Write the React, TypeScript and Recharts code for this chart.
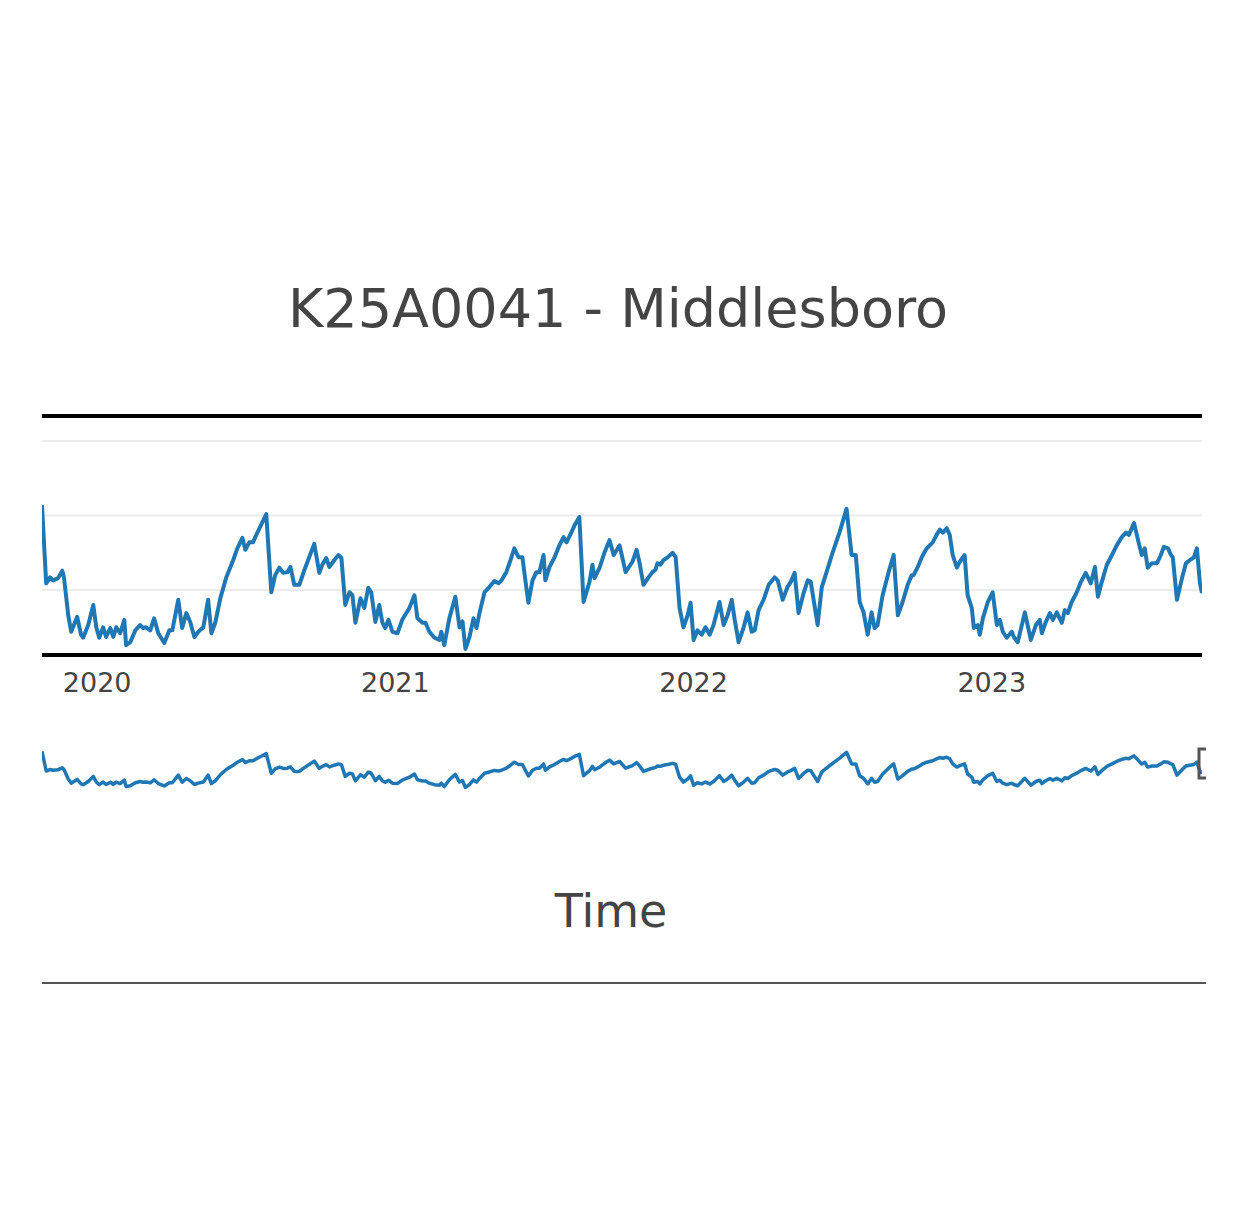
import React from "react";
import { LineChart, Line, XAxis, YAxis, ReferenceLine } from "recharts";

const TITLE = "K25A0041 - Middlesboro";
const X_TITLE = "Time";
const YEAR_TICKS = [2020, 2021, 2022, 2023];
const GRID_VALUES = [10, 20, 30];
const X_DOMAIN: [number, number] = [2019.815, 2023.705];
const Y_DOMAIN: [number, number] = [1.28, 33.36];

// Time in decimal years
const TIMES = [
  2019.815, 2019.829, 2019.842, 2019.852, 2019.869, 2019.883, 2019.889, 2019.903,
  2019.913, 2019.926, 2019.933, 2019.946, 2019.953, 2019.970, 2019.987, 2019.997,
  2020.007, 2020.020, 2020.030, 2020.044, 2020.054, 2020.064, 2020.077, 2020.091,
  2020.097, 2020.111, 2020.128, 2020.144, 2020.154, 2020.164, 2020.178, 2020.191,
  2020.205, 2020.225, 2020.242, 2020.252, 2020.272, 2020.285, 2020.299, 2020.312,
  2020.326, 2020.339, 2020.356, 2020.372, 2020.383, 2020.396, 2020.413, 2020.433,
  2020.456, 2020.470, 2020.487, 2020.497, 2020.510, 2020.523, 2020.530, 2020.547,
  2020.567, 2020.584, 2020.597, 2020.611, 2020.624, 2020.638, 2020.648, 2020.661,
  2020.678, 2020.695, 2020.711, 2020.728, 2020.745, 2020.755, 2020.768, 2020.779,
  2020.795, 2020.809, 2020.819, 2020.832, 2020.846, 2020.856, 2020.866, 2020.883,
  2020.896, 2020.909, 2020.919, 2020.933, 2020.946, 2020.956, 2020.966, 2020.977,
  2020.990, 2021.007, 2021.023, 2021.047, 2021.064, 2021.074, 2021.091, 2021.101,
  2021.114, 2021.131, 2021.148, 2021.154, 2021.164, 2021.181, 2021.201, 2021.215,
  2021.225, 2021.235, 2021.248, 2021.262, 2021.272, 2021.282, 2021.299, 2021.315,
  2021.332, 2021.346, 2021.356, 2021.372, 2021.386, 2021.399, 2021.413, 2021.426,
  2021.436, 2021.446, 2021.460, 2021.473, 2021.483, 2021.497, 2021.503, 2021.517,
  2021.534, 2021.550, 2021.564, 2021.574, 2021.591, 2021.601, 2021.617, 2021.631,
  2021.651, 2021.661, 2021.668, 2021.685, 2021.701, 2021.718, 2021.732, 2021.752,
  2021.772, 2021.795, 2021.809, 2021.819, 2021.832, 2021.849, 2021.862, 2021.872,
  2021.879, 2021.889, 2021.899, 2021.913, 2021.930, 2021.940, 2021.953, 2021.966,
  2021.980, 2021.990, 2022.000, 2022.013, 2022.027, 2022.040, 2022.054, 2022.067,
  2022.087, 2022.101, 2022.114, 2022.128, 2022.138, 2022.151, 2022.168, 2022.181,
  2022.195, 2022.205, 2022.218, 2022.235, 2022.252, 2022.272, 2022.282, 2022.299,
  2022.315, 2022.326, 2022.339, 2022.352, 2022.369, 2022.383, 2022.393, 2022.416,
  2022.430, 2022.446, 2022.466, 2022.490, 2022.513, 2022.530, 2022.544, 2022.557,
  2022.570, 2022.584, 2022.597, 2022.607, 2022.617, 2022.634, 2022.654, 2022.671,
  2022.685, 2022.701, 2022.718, 2022.732, 2022.738, 2022.752, 2022.765, 2022.782,
  2022.792, 2022.802, 2022.815, 2022.826, 2022.836, 2022.849, 2022.859, 2022.869,
  2022.883, 2022.893, 2022.909, 2022.919, 2022.933, 2022.940, 2022.953, 2022.960,
  2022.970, 2022.987, 2023.003, 2023.017, 2023.027, 2023.037, 2023.050, 2023.067,
  2023.074, 2023.087, 2023.111, 2023.131, 2023.148, 2023.161, 2023.168, 2023.181,
  2023.195, 2023.205, 2023.218, 2023.235, 2023.245, 2023.255, 2023.268, 2023.285,
  2023.299, 2023.315, 2023.332, 2023.346, 2023.356, 2023.369, 2023.386, 2023.403,
  2023.419, 2023.436, 2023.450, 2023.460, 2023.477, 2023.493, 2023.503, 2023.513,
  2023.523, 2023.537, 2023.554, 2023.567, 2023.577, 2023.591, 2023.601, 2023.607,
  2023.621, 2023.638, 2023.651, 2023.664, 2023.678, 2023.688, 2023.698, 2023.705,
];

const FLOW = [
  21.4, 10.9, 11.7, 11.3, 11.6, 12.6, 11.6, 6.6,
  4.4, 5.7, 6.4, 4.0, 3.6, 5.3, 8.0, 5.0,
  3.6, 5.0, 3.7, 4.9, 3.7, 5.0, 4.2, 6.0,
  2.6, 3.0, 4.6, 5.3, 4.9, 5.0, 4.6, 6.2,
  4.2, 2.9, 4.6, 4.6, 8.7, 4.9, 6.9, 5.7,
  3.7, 4.4, 5.0, 8.7, 4.2, 5.6, 8.9, 11.7,
  14.0, 15.6, 17.0, 15.4, 16.4, 16.4, 17.1, 18.5,
  20.2, 9.7, 12.0, 13.0, 12.3, 12.4, 13.1, 10.7,
  10.7, 12.7, 14.4, 16.2, 12.3, 13.4, 14.3, 13.1,
  14.0, 14.7, 14.3, 8.0, 9.7, 9.3, 5.6, 8.9,
  7.6, 10.3, 9.7, 5.7, 8.0, 5.7, 4.9, 6.0,
  4.4, 4.2, 6.0, 7.6, 9.3, 6.2, 5.6, 5.6,
  4.4, 3.6, 3.3, 4.4, 2.6, 6.2, 9.1, 5.0,
  5.8, 2.1, 3.6, 6.2, 4.9, 6.9, 9.7, 10.4,
  11.2, 10.9, 11.3, 12.4, 14.0, 15.6, 14.4, 14.4,
  11.3, 8.3, 11.3, 12.4, 12.4, 14.7, 11.3, 13.1,
  14.4, 16.0, 17.1, 16.4, 17.8, 18.7, 19.8, 8.4,
  11.1, 13.4, 11.6, 13.0, 15.0, 16.7, 14.7, 16.0,
  12.4, 13.8, 15.4, 13.6, 10.7, 11.7, 12.4, 12.7,
  13.6, 13.4, 14.0, 14.4, 15.0, 14.4, 7.6, 5.0,
  6.6, 8.3, 3.3, 4.6, 4.0, 5.0, 4.0, 5.3,
  8.4, 5.3, 6.6, 8.7, 6.0, 3.0, 5.0, 7.0,
  4.4, 4.6, 7.3, 8.7, 10.7, 11.7, 11.3, 8.7,
  10.4, 11.1, 12.3, 6.9, 9.6, 11.3, 11.1, 5.3,
  10.4, 12.4, 15.0, 17.8, 20.9, 14.7, 14.7, 8.4,
  7.0, 4.0, 7.0, 4.9, 5.3, 9.3, 12.4, 14.7,
  6.6, 8.4, 10.7, 12.0, 12.0, 13.1, 14.4, 15.6,
  16.0, 16.4, 17.4, 18.1, 17.7, 18.3, 17.4, 14.7,
  13.0, 13.8, 14.7, 9.3, 7.6, 4.9, 5.3, 4.0,
  6.2, 8.4, 9.7, 5.3, 6.0, 4.4, 3.6, 4.4,
  3.7, 3.0, 7.0, 3.3, 5.3, 6.0, 4.2, 5.7,
  6.9, 6.0, 7.0, 5.6, 7.3, 6.9, 8.4, 9.7,
  11.1, 12.3, 10.9, 13.1, 9.1, 11.1, 13.4, 14.7,
  16.0, 17.1, 17.7, 17.4, 19.0, 16.3, 14.7, 15.6,
  13.0, 13.6, 13.6, 14.7, 15.8, 15.6, 14.7, 14.4,
  8.7, 11.6, 13.6, 14.0, 14.4, 15.6, 10.9, 9.6,
];

const data = TIMES.map((t, i) => ({ t, v: FLOW[i] }));

const FONT = "'DejaVu Sans', Verdana, sans-serif";
const TEXT_COLOR = "#444";
const LINE_COLOR = "#1f77b4";

const YearTick = (props: any) => {
  const { x, y, payload } = props;
  return (
    <text x={x} y={y + 37} textAnchor="middle" fontFamily={FONT} fontSize={27} fill={TEXT_COLOR}>
      {payload.value}
    </text>
  );
};

export default function App() {
  return (
    <div style={{ position: "absolute", left: 0, top: 0, width: 1248, height: 1228, background: "#fff", overflow: "hidden" }}>
      <div style={{ position: "absolute", left: 0, top: 0 }}>
        <LineChart width={1248} height={720} data={data} margin={{ top: 416, right: 46, bottom: 25, left: 42 }}>
          <XAxis
            dataKey="t"
            type="number"
            domain={X_DOMAIN}
            allowDataOverflow
            ticks={YEAR_TICKS}
            height={40}
            tickSize={0}
            tickMargin={0}
            tickLine={false}
            axisLine={{ stroke: "#000", strokeWidth: 4 }}
            tick={<YearTick />}
          />
          <YAxis
            type="number"
            domain={Y_DOMAIN}
            allowDataOverflow
            ticks={GRID_VALUES}
            width={0}
            tick={false}
            tickLine={false}
            axisLine={false}
          />
          {GRID_VALUES.map((g) => (
            <ReferenceLine key={g} y={g} stroke="#ececec" strokeWidth={2} />
          ))}
          <ReferenceLine y={Y_DOMAIN[1]} stroke="#000" strokeWidth={4} />
          <Line
            type="linear"
            dataKey="v"
            stroke={LINE_COLOR}
            strokeWidth={4}
            strokeLinejoin="round"
            dot={false}
            isAnimationActive={false}
          />
        </LineChart>
      </div>
      <div style={{ position: "absolute", left: 0, top: 700 }}>
        <LineChart width={1248} height={120} data={data} margin={{ top: 29, right: 46, bottom: 31, left: 42 }}>
          <XAxis dataKey="t" type="number" domain={X_DOMAIN} allowDataOverflow hide />
          <YAxis type="number" domain={Y_DOMAIN} allowDataOverflow hide />
          <Line
            type="linear"
            dataKey="v"
            stroke={LINE_COLOR}
            strokeWidth={3.5}
            strokeLinejoin="round"
            dot={false}
            isAnimationActive={false}
          />
        </LineChart>
      </div>
      <svg width={1248} height={1228} style={{ position: "absolute", left: 0, top: 0, pointerEvents: "none" }}>
        <text x={618} y={327} textAnchor="middle" fontFamily={FONT} fontSize={54} fill={TEXT_COLOR}>
          {TITLE}
        </text>
        <path d="M1206,749 H1199 V778 H1206" fill="none" stroke="#555" strokeWidth={3} />
        <text x={611} y={927} textAnchor="middle" fontFamily={FONT} fontSize={46} fill={TEXT_COLOR}>
          {X_TITLE}
        </text>
        <line x1={42} x2={1206} y1={983} y2={983} stroke="#555" strokeWidth={2} />
      </svg>
    </div>
  );
}
